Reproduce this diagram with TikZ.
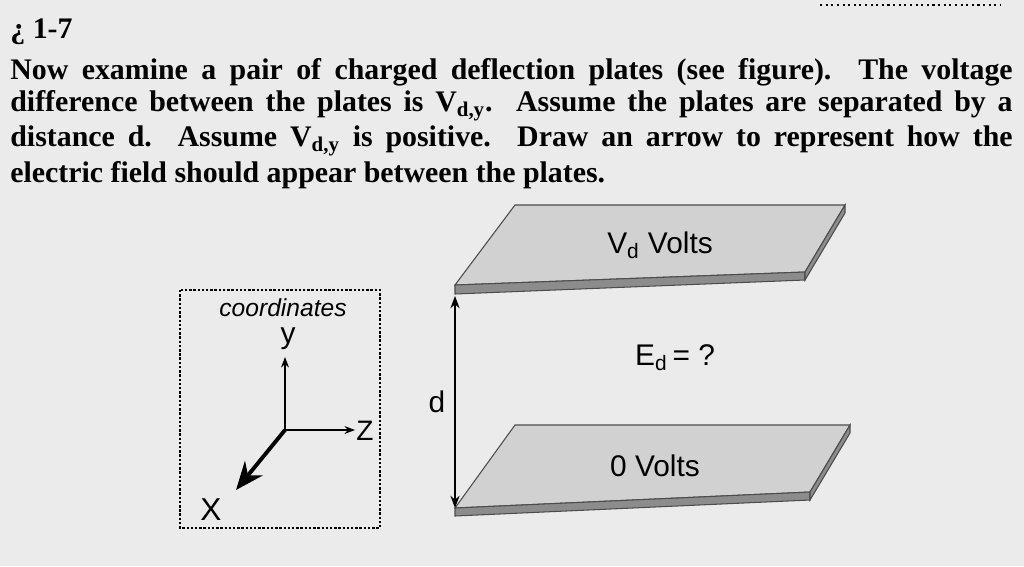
\documentclass[tikz,border=0pt]{standalone}
\usepackage{fontspec}
\setmainfont{Liberation Serif}
\newfontfamily\sansf{Liberation Sans}
\usetikzlibrary{arrows.meta}
\begin{document}
\begin{tikzpicture}[x=0.02cm,y=-0.02cm,
  body/.style={font=\bfseries\fontsize{17}{19}\selectfont,anchor=west,inner sep=0},
  lab/.style={font=\sansf\fontsize{14}{16}\selectfont,inner sep=0},
  plate/.style={draw=black!70,fill=black!18,line width=0.6pt},
  edge/.style={draw=black!70,fill=black!45,line width=0.6pt}]
\useasboundingbox[fill=black!8] (0,0) rectangle (1024,566);
\draw[dotted,line width=1.2pt] (820,5) -- (1000,5);
\node[body] (num) at (10,32) {¿ 1-7};
\node[body] (l1) at (10,72) {\makebox[20.05cm][s]{Now examine a pair of charged deflection plates (see figure).\ \ The voltage}};
\node[body] (l2) at (10,106) {\makebox[20.05cm][s]{difference between the plates is V\textsubscript{d,y}.\ \ Assume the plates are separated by a}};
\node[body] (l3) at (10,141) {\makebox[20.05cm][s]{distance d.\ \ Assume V\textsubscript{d,y} is positive. Draw an arrow to represent how the}};
\node[body] (l4) at (10,175) {electric field should appear between the plates.};
% top plate
\path[plate] (455,285) -- (515,205) -- (845,205) -- (805,272) -- cycle;
\path[edge] (455,285) -- (805,272) -- (805,280) -- (455,294) -- cycle;
\path[edge] (805,272) -- (845,205) -- (845,213) -- (805,280) -- cycle;
% bottom plate
\path[plate] (455,508) -- (515,425) -- (850,425) -- (810,492) -- cycle;
\path[edge] (455,508) -- (810,492) -- (810,500) -- (455,516) -- cycle;
\path[edge] (810,492) -- (850,425) -- (850,433) -- (810,500) -- cycle;
\coordinate (dt) at (455,296);
\coordinate (db) at (455,508);
\draw[{Stealth[length=7pt]}-{Stealth[length=7pt]},line width=0.8pt] (dt) -- (db);
\node[lab,font=\sansf\fontsize{17}{19}\selectfont] (d) at (437,402) {d};
\node[lab,font=\sansf\fontsize{17}{19}\selectfont] (vd) at (660,245) {V\textsubscript{d} Volts};
\node[lab,font=\sansf\fontsize{17}{19}\selectfont] (ed) at (675,358) {E\textsubscript{d}\,= ?};
\node[lab,font=\sansf\fontsize{17}{19}\selectfont] (zero) at (655,466) {0 Volts};
% coordinates box
\draw[densely dotted,line width=1.4pt] (180,290) rectangle (380,528);
\node[lab,font=\sansf\itshape\fontsize{14}{16}\selectfont] (coord) at (283,308) {coordinates};
\coordinate (o) at (285,430);
\coordinate (ye) at (285,357);
\coordinate (ze) at (355,430);
\coordinate (xe) at (236,490);
\draw[-{Stealth[length=16pt,width=13pt]},line width=2.2pt] (o) -- (xe);
\draw[-{Stealth[length=6pt]},line width=0.8pt] (o) -- (ye);
\draw[-{Stealth[length=6pt]},line width=0.8pt] (o) -- (ze);
\node[lab,font=\sansf\fontsize{17}{19}\selectfont] (y) at (288,339) {y};
\node[lab,font=\sansf\fontsize{16}{18}\selectfont] (z) at (365,431) {Z};
\node[lab,font=\sansf\fontsize{18}{20}\selectfont] (x) at (211,510) {X};
\end{tikzpicture}
\end{document}
